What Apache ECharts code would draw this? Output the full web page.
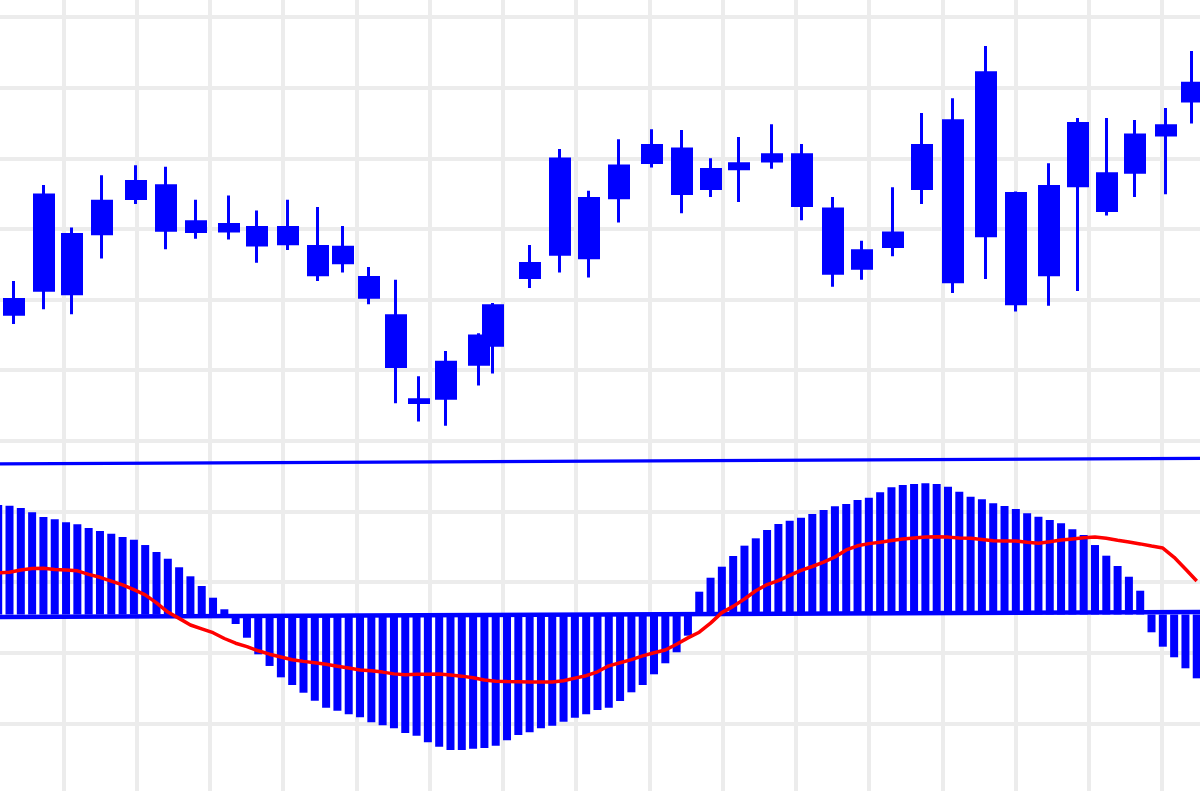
<!DOCTYPE html>
<html><head><meta charset="utf-8">
<script src="https://cdn.jsdelivr.net/npm/echarts@6/dist/echarts.min.js"></script>
<style>html,body{margin:0;padding:0;background:#fff}#c{width:1200px;height:791px}</style>
</head><body><div id="c"></div>
<script>
// Candle positions along the session (in average-bar units) and OHLC prices
const candlePos = [0, 1.02, 1.97, 2.99, 4.14, 5.16, 6.18, 7.30, 8.25, 9.30, 10.32, 11.17, 12.05, 12.97, 13.75, 14.67, 15.79, 16.26, 17.52, 18.54, 19.52, 20.54, 21.66, 22.68, 23.67, 24.62, 25.74, 26.76, 27.81, 28.79, 29.85, 30.83, 31.88, 33.01, 34.02, 35.14, 36.13, 37.11, 38.06, 39.12, 40.00];
const candleOpen = [1.12579, 1.12613, 1.12692, 1.12693, 1.12743, 1.12761, 1.12710, 1.12706, 1.12702, 1.12679, 1.12675, 1.12652, 1.12631, 1.12577, 1.12458, 1.12460, 1.12508, 1.12535, 1.12631, 1.12664, 1.12743, 1.12744, 1.12794, 1.12813, 1.12757, 1.12785, 1.12796, 1.12805, 1.12728, 1.12644, 1.12675, 1.12757, 1.12625, 1.12921, 1.12750, 1.12635, 1.12761, 1.12778, 1.12780, 1.12833, 1.12881];
const candleClose = [1.12600, 1.12748, 1.12608, 1.12739, 1.12767, 1.12698, 1.12696, 1.12697, 1.12677, 1.12702, 1.12635, 1.12674, 1.12603, 1.12505, 1.12454, 1.12511, 1.12548, 1.12591, 1.12651, 1.12799, 1.12659, 1.12789, 1.12818, 1.12750, 1.12784, 1.12792, 1.12805, 1.12733, 1.12637, 1.12669, 1.12694, 1.12818, 1.12853, 1.12690, 1.12594, 1.12760, 1.12849, 1.12726, 1.12833, 1.12846, 1.12906];
const candleLow = [1.12565, 1.12586, 1.12579, 1.12658, 1.12735, 1.12671, 1.12686, 1.12685, 1.12652, 1.12670, 1.12626, 1.12638, 1.12593, 1.12453, 1.12427, 1.12421, 1.12478, 1.12495, 1.12616, 1.12638, 1.12631, 1.12709, 1.12787, 1.12722, 1.12745, 1.12738, 1.12785, 1.12712, 1.12618, 1.12628, 1.12661, 1.12735, 1.12609, 1.12629, 1.12583, 1.12591, 1.12612, 1.12719, 1.12745, 1.12749, 1.12849];
const candleHigh = [1.12626, 1.12762, 1.12702, 1.12776, 1.12790, 1.12788, 1.12741, 1.12747, 1.12726, 1.12741, 1.12731, 1.12704, 1.12646, 1.12628, 1.12491, 1.12527, 1.12552, 1.12595, 1.12677, 1.12813, 1.12754, 1.12827, 1.12841, 1.12840, 1.12800, 1.12830, 1.12848, 1.12820, 1.12745, 1.12683, 1.12759, 1.12864, 1.12885, 1.12959, 1.12753, 1.12793, 1.12857, 1.12857, 1.12854, 1.12871, 1.12952];

// MACD histogram and signal line (points)
const macdHist = [15.51, 15.41, 15.08, 14.48, 13.81, 13.48, 13.06, 12.78, 12.25, 11.83, 11.44, 10.98, 10.59, 9.84, 8.85, 7.90, 6.69, 5.41, 4.04, 2.38, 0.74,
  -1.35, -3.29, -5.64, -7.29, -8.90, -9.99, -11.08, -12.21, -13.20, -13.63, -14.14, -14.56, -15.27, -15.69, -16.12, -16.78, -17.17, -18.10, -18.73, -19.19,
  -19.19, -19.01, -18.91, -18.58, -17.82, -17.07, -16.69, -16.12, -15.75, -15.18, -14.62, -14.14, -13.53, -13.20, -12.25, -11.02, -9.99, -8.47, -6.91, -5.35, -3.00,
  3.23, 5.21, 6.77, 8.29, 9.75, 10.79, 11.97, 12.82, 13.29, 13.71, 14.24, 14.80, 15.33, 15.65, 16.22, 16.54, 17.31, 18.02, 18.34, 18.48,
  18.58, 18.48, 18.10, 17.39, 16.69, 16.32, 15.75, 15.37, 14.94, 14.33, 13.85, 13.39, 12.92, 12.07, 11.26, 9.84, 8.33, 6.87, 5.35, 3.37,
  -2.52, -4.56, -6.06, -7.62, -9.04];
const macdSignal = [5.92, 5.98, 6.30, 6.53, 6.54, 6.39, 6.30, 6.19, 5.68, 5.27,
  4.73, 4.19, 3.51, 2.79, 1.64, 0.35, -0.55, -1.49, -2.03, -2.58,
  -3.40, -4.07, -4.55, -5.14, -5.62, -6.01, -6.40, -6.64, -6.84, -7.05,
  -7.32, -7.59, -7.86, -7.97, -8.16, -8.41, -8.54, -8.48, -8.46, -8.43,
  -8.57, -8.73, -8.97, -9.28, -9.45, -9.50, -9.53, -9.56, -9.56, -9.56,
  -9.38, -9.01, -8.67, -8.12, -7.27, -6.83, -6.39, -5.86, -5.41, -5.03,
  -4.21, -3.31, -2.51, -1.22, 0.27, 1.15, 2.20, 3.36, 4.24, 4.79,
  5.54, 6.26, 6.80, 7.41, 8.14, 9.14, 9.73, 10.04, 10.23, 10.47,
  10.68, 10.85, 10.98, 11.02, 10.96, 10.85, 10.79, 10.62, 10.44, 10.42,
  10.42, 10.25, 10.10, 10.30, 10.55, 10.71, 10.86, 10.98, 10.79, 10.52,
  10.27, 10.00, 9.69, 9.41, 8.10, 6.44, 4.75];

// Pane separator and indicator zero level (background-grid units, left and right ends)
const separatorLevel = [4.671, 4.754];
const zeroLevel = [2.504, 2.578];

const BLUE = '#0000ff';
const RED = '#ff0000';
const GRIDLINE = '#ececec';

const candleData = candlePos.map((x, i) => [x, candleOpen[i], candleClose[i], candleLow[i], candleHigh[i]]);
const histCats = macdHist.map((_, i) => String(i + 1));

const hidden = { axisLine: { show: false }, axisTick: { show: false }, axisLabel: { show: false }, splitLine: { show: false } };
const gridLinesOn = { axisLine: { show: false }, axisTick: { show: false }, axisLabel: { show: false },
  splitLine: { show: true, lineStyle: { color: GRIDLINE, width: 4 } } };

const chart = echarts.init(document.getElementById('c'), null, { renderer: 'canvas' });
chart.setOption({
  animation: false,
  backgroundColor: '#ffffff',
  grid: [
    { left: -9.95, top: -53.63, width: 1245.25, height: 847.56, containLabel: false, outerBoundsMode: 'none' },
    { left: -15.45, top: 17, width: 1236.9, height: 423.6, containLabel: false, outerBoundsMode: 'none' },
    { left: -7.45, top: 438, width: 1209.85, height: 353, containLabel: false, outerBoundsMode: 'none' }
  ],
  xAxis: [
    Object.assign({ gridIndex: 0, type: 'value', min: 0, max: 17, interval: 1 }, gridLinesOn),
    Object.assign({ gridIndex: 1, type: 'value', min: -1, max: 41 }, hidden),
    Object.assign({ gridIndex: 2, type: 'category', data: histCats, boundaryGap: true }, hidden)
  ],
  yAxis: [
    Object.assign({ gridIndex: 0, type: 'value', min: 0, max: 12, interval: 1 }, gridLinesOn),
    Object.assign({ gridIndex: 1, type: 'value', min: 1.124, max: 1.130 }, hidden),
    Object.assign({ gridIndex: 2, type: 'value', min: -25, max: 25 }, hidden)
  ],
  series: [
    {
      type: 'candlestick', xAxisIndex: 1, yAxisIndex: 1, data: candleData, barWidth: 19,
      itemStyle: { color: BLUE, color0: BLUE, borderColor: BLUE, borderColor0: BLUE, borderColorDoji: BLUE, borderWidth: 3 },
      silent: true
    },
    {
      type: 'line', xAxisIndex: 0, yAxisIndex: 0, symbol: 'none', silent: true,
      data: [[0, separatorLevel[0]], [17, separatorLevel[1]]],
      lineStyle: { color: BLUE, width: 3.3 }
    },
    {
      type: 'bar', xAxisIndex: 2, yAxisIndex: 2, data: macdHist, barWidth: 8, silent: true,
      itemStyle: { color: BLUE }
    },
    {
      type: 'line', xAxisIndex: 0, yAxisIndex: 0, symbol: 'none', silent: true, z: 3,
      data: [[0, zeroLevel[0]], [17, zeroLevel[1]]],
      lineStyle: { color: BLUE, width: 4.5 }
    },
    {
      type: 'line', xAxisIndex: 2, yAxisIndex: 2, data: macdSignal, symbol: 'none', silent: true, z: 4,
      smooth: false, lineStyle: { color: RED, width: 3.5 }
    }
  ]
});
</script>
</body></html>
